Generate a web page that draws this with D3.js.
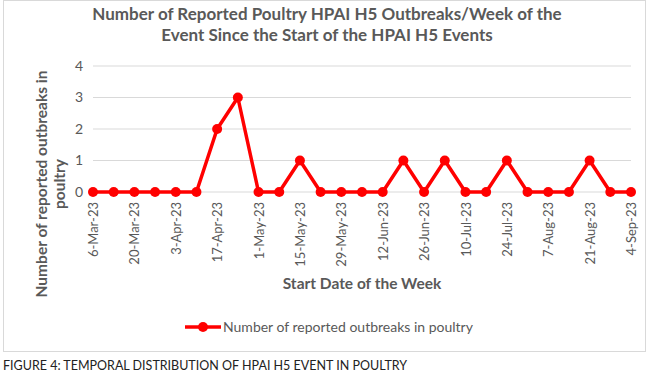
<!DOCTYPE html>
<html><head><meta charset="utf-8">
<script src="https://cdn.jsdelivr.net/npm/d3@7"></script>
<style>body{margin:0;background:#fff;}svg{display:block;font-family:Lato,"Open Sans",sans-serif;}</style>
</head><body>
<svg id="c" width="649" height="386"></svg>
<script>
const weeks = ["6-Mar-23","13-Mar-23","20-Mar-23","27-Mar-23","3-Apr-23","10-Apr-23","17-Apr-23","24-Apr-23","1-May-23","8-May-23","15-May-23","22-May-23","29-May-23","5-Jun-23","12-Jun-23","19-Jun-23","26-Jun-23","3-Jul-23","10-Jul-23","17-Jul-23","24-Jul-23","31-Jul-23","7-Aug-23","14-Aug-23","21-Aug-23","28-Aug-23","4-Sep-23"];
const outbreaks = [0,0,0,0,0,0,2,3,0,0,1,0,0,0,0,1,0,1,0,0,1,0,0,0,1,0,0];
const yTicks = [0,1,2,3,4];
const seriesName = "Number of reported outbreaks in poultry";
const titleLines = ["Number of Reported Poultry HPAI H5 Outbreaks/Week of the","Event Since the Start of the HPAI H5 Events"];
const xTitle = "Start Date of the Week";
const yTitleLines = ["Number of reported outbreaks in","poultry"];
const caption = "FIGURE 4: TEMPORAL DISTRIBUTION OF HPAI H5 EVENT IN POULTRY";

const svg = d3.select("#c");
const gray = "#595959";
const pL = 93, pR = 631, pT = 66, pB = 192;

svg.append("rect").attr("x",3.5).attr("y",0.5).attr("width",642).attr("height",351)
  .attr("fill","#fff").attr("stroke","#d9d9d9");

const x = d3.scalePoint().domain(weeks).range([pL,pR]);
const y = d3.scaleLinear().domain([0,4]).range([pB,pT]);

svg.append("g").selectAll("line").data(yTicks).join("line")
  .attr("x1",pL).attr("x2",pR).attr("y1",d=>y(d)).attr("y2",d=>y(d))
  .attr("stroke","#d9d9d9").attr("stroke-width",1);

const ya = svg.append("g").attr("transform",`translate(${pL},0)`)
  .call(d3.axisLeft(y).tickValues(yTicks).tickSize(0).tickPadding(10).tickFormat(d3.format("d")));
ya.select(".domain").remove();
ya.selectAll("text").attr("fill",gray).attr("font-size",14).attr("font-family","Lato,sans-serif");

const xa = svg.append("g").attr("transform",`translate(0,${pB})`)
  .call(d3.axisBottom(x).tickValues(weeks.filter((d,i)=>i%2===0)).tickSize(0).tickPadding(0));
xa.select(".domain").remove();
xa.selectAll("text").attr("fill",gray).attr("font-size",13).attr("font-family","Lato,sans-serif")
  .attr("text-anchor","end").attr("y",0).attr("dy","0.35em").attr("dx",0)
  .attr("transform","translate(0,10) rotate(-90)");

svg.append("path").datum(outbreaks)
  .attr("fill","none").attr("stroke","#ff0000").attr("stroke-width",3.5).attr("stroke-linejoin","round")
  .attr("d",d3.line().x((d,i)=>x(weeks[i])).y(d=>y(d)));
svg.append("g").selectAll("circle").data(outbreaks).join("circle")
  .attr("cx",(d,i)=>x(weeks[i])).attr("cy",d=>y(d)).attr("r",5).attr("fill","#ff0000");

svg.append("g").selectAll("text").data(titleLines).join("text")
  .attr("x",327).attr("y",(d,i)=>20+i*21).attr("text-anchor","middle").attr("fill",gray)
  .attr("font-size",17).attr("font-weight","bold").text(d=>d);

svg.append("g").selectAll("text").data(yTitleLines).join("text")
  .attr("transform",(d,i)=>`translate(${47+i*18},184) rotate(-90)`)
  .attr("text-anchor","middle").attr("fill",gray)
  .attr("font-size",15.5).attr("font-weight","bold").text(d=>d);

svg.append("text").attr("x",362).attr("y",289).attr("text-anchor","middle").attr("fill",gray)
  .attr("font-size",15.5).attr("font-weight","bold").text(xTitle);

const lg = svg.append("g");
lg.append("line").attr("x1",185).attr("x2",221).attr("y1",327).attr("y2",327).attr("stroke","#ff0000").attr("stroke-width",3.5);
lg.append("circle").attr("cx",203).attr("cy",327).attr("r",5).attr("fill","#ff0000");
lg.append("text").attr("x",223).attr("y",332).attr("fill",gray).attr("font-size",14).text(seriesName);

svg.append("text").attr("x",3).attr("y",370).attr("fill","#222").attr("font-size",12.5).text(caption);
</script>
</body></html>
